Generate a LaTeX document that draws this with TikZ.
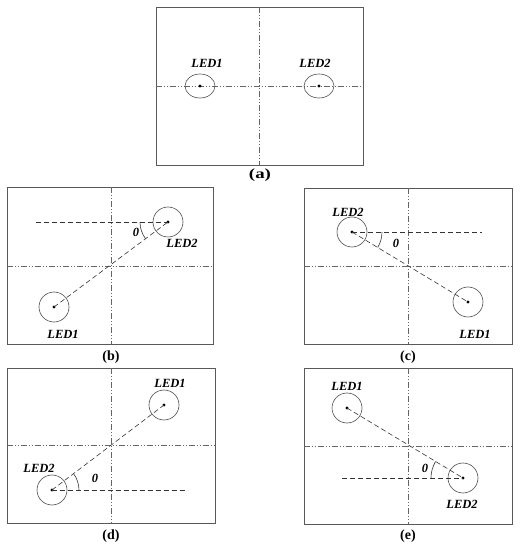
\documentclass[tikz,border=0pt]{standalone}
\usepackage{fontspec}
\setmainfont{Liberation Serif}
\usetikzlibrary{calc}
\begin{document}
\begin{tikzpicture}[x=1pt,y=1pt,
  frame/.style={draw=black!65,line width=0.8pt},
  axis/.style={draw=black!60,line width=0.6pt,dash pattern=on 6pt off 2pt on 1pt off 2pt on 1pt off 2pt},
  conn/.style={draw=black!80,line width=0.6pt,dash pattern=on 5pt off 3pt},
  ledc/.style={circle,draw=black!70,line width=0.6pt,minimum size=30pt,inner sep=0pt},
  dotc/.style={fill=black,circle,inner sep=0pt,minimum size=3.2pt},
  lbl/.style={font=\fontsize{12.5}{12.5}\selectfont\bfseries\itshape},
  subcap/.style={font=\fontsize{14}{14}\selectfont\bfseries},
  ang/.style={draw=black!80,line width=0.6pt}]
\useasboundingbox (0,0) rectangle (522,550);
% ---------- (a)
\node[frame,rectangle,minimum width=207pt,minimum height=158pt,inner sep=0pt] (fa) at (259.5,464) {};
\draw[axis] (fa.north) -- (fa.south);
\draw[axis] (fa.west) -- (fa.east);
\node[circle,draw=black!70,line width=0.6pt,minimum size=24pt,inner sep=0pt,xscale=1.25] (a1) at (200,464) {};
\node[circle,draw=black!70,line width=0.6pt,minimum size=24pt,inner sep=0pt,xscale=1.25] (a2) at (319,464) {};
\node[dotc] at (a1.center) {};
\node[dotc] at (a2.center) {};
\node[lbl] (la1) at (207,487) {LED1};
\node[lbl] (la2) at (315,487) {LED2};
\node[subcap,xscale=1.35] (ca) at (260,375) {(a)};
% ---------- (b)
\node[frame,rectangle,minimum width=206pt,minimum height=157pt,inner sep=0pt] (fb) at (110,284.5) {};
\draw[axis] (111,363) -- (111,206);
\draw[axis] (fb.west |- 0,284) -- (fb.east |- 0,284);
\node[ledc] (b1) at (54,243) {};
\node[ledc] (b2) at (168,328) {};
\node[dotc] at (b1.center) {};
\node[dotc] at (b2.center) {};
\coordinate (bh) at (36,328);
\draw[conn] (b1.center) -- (b2.center);
\draw[conn] (bh) -- (b2.center);
\draw[ang] ($(b2.center)+(180:28)$) arc[start angle=180,end angle=216.7,radius=28];
\node[lbl] (tb) at (136,318) {0};
\node[lbl] (lb2) at (182,307) {LED2};
\node[lbl] (lb1) at (63,216) {LED1};
\node[subcap] (cb) at (111,193) {(b)};
% ---------- (c)
\node[frame,rectangle,minimum width=208pt,minimum height=156pt,inner sep=0pt] (fc) at (408,284) {};
\draw[axis] (408,362) -- (408,206);
\draw[axis] (fc.west |- 0,284) -- (fc.east |- 0,284);
\node[ledc] (c1) at (468,248) {};
\node[ledc] (c2) at (352,318) {};
\node[dotc] at (c1.center) {};
\node[dotc] at (c2.center) {};
\coordinate (ch) at (482,318);
\draw[conn] (c2.center) -- (c1.center);
\draw[conn] (c2.center) -- (ch);
\draw[ang] ($(c2.center)+(0:30)$) arc[start angle=0,end angle=-31,radius=30];
\node[lbl] (tc) at (396,307) {0};
\node[lbl] (lc2) at (348,338) {LED2};
\node[lbl] (lc1) at (475,216) {LED1};
\node[subcap] (cc) at (408,193) {(c)};
% ---------- (d)
\node[frame,rectangle,minimum width=208pt,minimum height=155pt,inner sep=0pt] (fd) at (111,104.5) {};
\draw[axis] (111,182) -- (111,27);
\draw[axis] (fd.west |- 0,105) -- (fd.east |- 0,105);
\node[ledc] (d1) at (164,145) {};
\node[ledc] (d2) at (52,60) {};
\node[dotc] at (d1.center) {};
\node[dotc] at (d2.center) {};
\coordinate (dh) at (188,60);
\draw[conn] (d2.center) -- (d1.center);
\draw[conn] (d2.center) -- (dh);
\draw[ang] ($(d2.center)+(0:27)$) arc[start angle=0,end angle=37,radius=27];
\node[lbl] (td) at (95,72) {0};
\node[lbl] (ld2) at (39,82) {LED2};
\node[lbl] (ld1) at (170,167) {LED1};
\node[subcap] (cd) at (111,14) {(d)};
% ---------- (e)
\node[frame,rectangle,minimum width=208pt,minimum height=156pt,inner sep=0pt] (fe) at (408,104) {};
\draw[axis] (408,182) -- (408,26);
\draw[axis] (fe.west |- 0,104) -- (fe.east |- 0,104);
\node[ledc] (e1) at (347,142) {};
\node[ledc] (e2) at (463,72) {};
\node[dotc] at (e1.center) {};
\node[dotc] at (e2.center) {};
\coordinate (eh) at (342,72);
\draw[conn] (e1.center) -- (e2.center);
\draw[conn] (eh) -- (e2.center);
\draw[ang] ($(e2.center)+(149:32)$) arc[start angle=149,end angle=180,radius=32];
\node[lbl] (te) at (425,82) {0};
\node[lbl] (le2) at (462,46) {LED2};
\node[lbl] (le1) at (347,164) {LED1};
\node[subcap] (ce) at (408,14) {(e)};
\end{tikzpicture}
\end{document}
